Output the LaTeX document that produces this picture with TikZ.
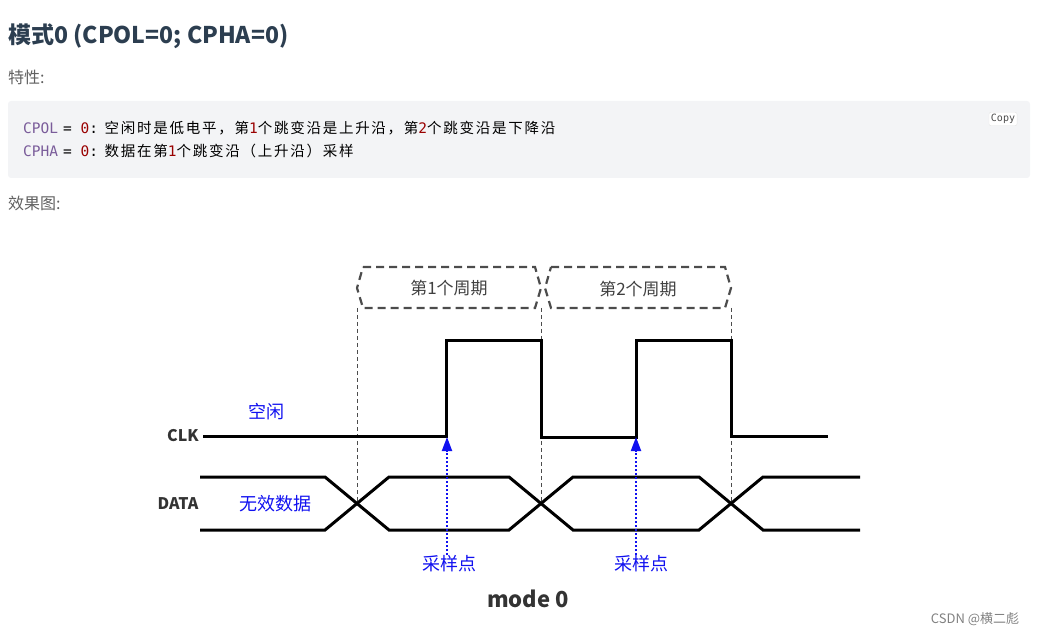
\documentclass[tikz,border=0pt]{standalone}
\usepackage{fontspec}
\setmainfont{Noto Sans CJK SC}
\newfontfamily\cjk{Noto Sans CJK SC}
\newfontfamily\mono{DejaVu Sans Mono}
\usetikzlibrary{arrows.meta}
\definecolor{titlec}{HTML}{2C3E50}
\definecolor{grayt}{HTML}{606060}
\definecolor{codebg}{HTML}{F3F4F6}
\definecolor{kw}{HTML}{7A5C9A}
\definecolor{num}{HTML}{990000}
\definecolor{bl}{HTML}{1010F0}
\begin{document}
\begin{tikzpicture}[x=1pt,y=-1pt,
  txt/.style={inner sep=0pt,font=\fontsize{15}{15}\selectfont},
  wave/.style={line width=3pt,black},
  guide/.style={gray!60!black,line width=0.7pt,dash pattern=on 4pt off 3pt},
  cyc/.style={line width=2.2pt,black!70,dash pattern=on 8pt off 5pt},
  blue/.style={txt,text=bl,font=\fontsize{18}{18}\selectfont},
  code/.style={txt,anchor=west,font=\fontsize{14.5}{15}\selectfont\addfontfeatures{LetterSpace=12}},
  samp/.style={bl,line width=2pt,dotted,-{Triangle[length=14pt,width=10pt]}}]
\useasboundingbox (0,0) rectangle (1039,636);
\node[txt,anchor=west,text=titlec,font=\fontsize{23}{23}\selectfont\bfseries] (title) at (8,36) {模式0 (CPOL=0; CPHA=0)};
\node[txt,anchor=west,text=grayt,font=\fontsize{16}{16}\selectfont] (feat) at (8,77) {特性:};
\fill[codebg,rounded corners=3pt] (8,101) rectangle (1030,178);
\node[draw=gray!20,fill=white,rounded corners=2pt,inner sep=2pt,font=\mono\fontsize{10}{10}\selectfont,text=gray!60!black] (copy) at (1003,119) {Copy};
\node[code] (l1) at (23,128) {{\mono\color{kw}CPOL} {\mono = }{\mono\color{num}0}{\mono:} 空闲时是低电平，第{\mono\color{num}1}个跳变沿是上升沿，第{\mono\color{num}2}个跳变沿是下降沿};
\node[code] (l2) at (23,151) {{\mono\color{kw}CPHA} {\mono = }{\mono\color{num}0}{\mono:} 数据在第{\mono\color{num}1}个跳变沿（上升沿）采样};
\node[txt,anchor=west,text=grayt,font=\fontsize{16}{16}\selectfont] (eff) at (8,203) {效果图:};
% cycle boxes
\draw[cyc] (363,267) -- (535,267) -- (541,288) -- (535,308) -- (363,308) -- (357,288) -- cycle;
\draw[cyc] (551,267) -- (725,267) -- (731,288) -- (725,308) -- (551,308) -- (545,288) -- cycle;
\node[txt,text=black!75,font=\fontsize{17}{17}\selectfont] (c1) at (449,288) {第1个周期};
\node[txt,text=black!75,font=\fontsize{17}{17}\selectfont] (c2) at (638,289) {第2个周期};
% guides
\draw[guide] (357,308) -- (357,504);
\draw[guide] (541,308) -- (541,504);
\draw[guide] (731,308) -- (731,504);
% CLK
\node[txt,font=\fontsize{16}{16}\selectfont\bfseries,text=black!80] (clk) at (183,436) {CLK};
\draw[wave] (203,436) -- (446,436) -- (446,341) -- (541,341) -- (541,437) -- (636,437) -- (636,341) -- (731,341) -- (731,436) -- (828,436);
\node[blue] (idle) at (266,412) {空闲};
% DATA
\node[txt,font=\fontsize{16}{16}\selectfont\bfseries,text=black!80] (data) at (178,504) {DATA};
\node[blue] (inv) at (275,504) {无效数据};
\draw[wave] (200,477) -- (325,477) -- (389,530) -- (509,530) -- (573,477) -- (699,477) -- (763,530) -- (860,530);
\draw[wave] (200,530) -- (325,530) -- (389,477) -- (509,477) -- (573,530) -- (699,530) -- (763,477) -- (860,477);
% sample arrows
\coordinate (s1) at (447,555);
\coordinate (s2) at (636,555);
\draw[samp] (s1) -- (447,437);
\draw[samp] (s2) -- (636,437);
\node[blue] (sl1) at (449,564) {采样点};
\node[blue] (sl2) at (641,564) {采样点};
\node[txt,font=\fontsize{22}{22}\selectfont\bfseries,text=black!80] (mode) at (528,599) {mode 0};
\node[txt,font=\fontsize{13}{13}\selectfont,text=gray] (wm) at (975,619) {CSDN @横二彪};
\end{tikzpicture}
\end{document}
